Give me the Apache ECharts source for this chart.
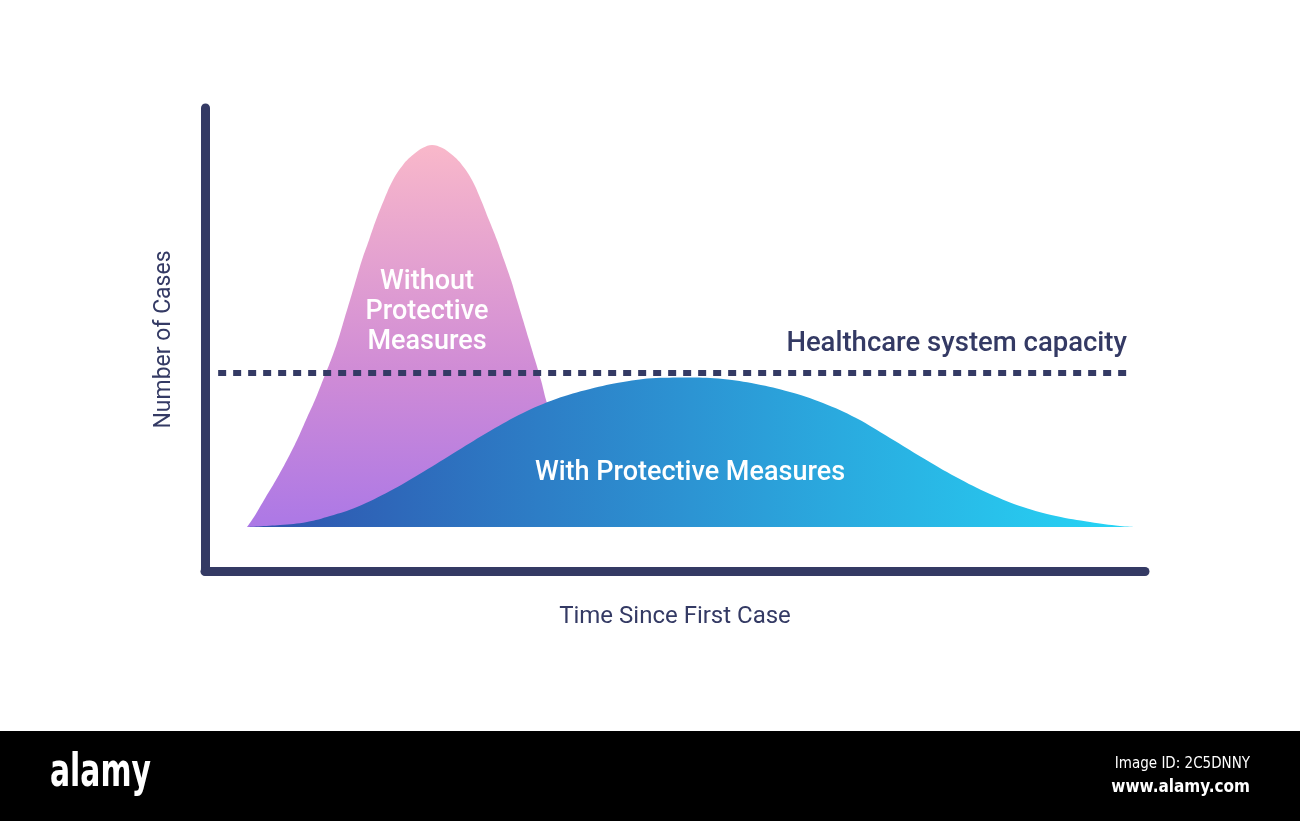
<!DOCTYPE html>
<html>
<head>
<meta charset="utf-8">
<title>Flatten the curve</title>
<script src="https://cdn.jsdelivr.net/npm/echarts@6/dist/echarts.min.js"></script>
<style>
  html, body { margin: 0; padding: 0; background: #fff; }
  #curveChart { width: 1300px; height: 821px; }
</style>
</head>
<body>
<div id="curveChart"></div>
<script>
  // curve without protective measures (time, cases)
  var timeWithout = [4.47, 5.21, 6.28, 7.55, 8.72, 9.79, 10.74, 11.70, 12.55, 13.40, 14.15, 14.79, 15.43, 16.06,
    16.70, 17.45, 18.19, 19.04, 20.00, 21.06, 22.13, 23.19, 24.15, 25.21, 26.28, 27.34, 28.40, 29.36, 30.21,
    31.06, 31.81, 32.55, 33.19, 33.83, 34.47, 35.11, 35.74, 36.28, 36.91, 37.66, 38.51, 39.57, 40.96, 42.55, 45.21];
  var casesWithout = [0, 2.27, 6.14, 10.68, 15.23, 19.77, 24.32, 28.86, 33.41, 37.95, 42.50, 47.05, 51.59, 56.14,
    60.68, 65.23, 69.77, 74.32, 78.86, 82.27, 84.55, 86.14, 86.82, 86.14, 84.55, 82.27, 78.86, 74.32, 69.77,
    65.23, 60.68, 56.14, 51.59, 47.05, 42.50, 37.95, 33.41, 28.86, 24.32, 19.77, 15.23, 10.68, 6.14, 2.73, 0];

  // curve with protective measures
  var timeWith = [4.47, 7.98, 10.85, 13.30, 16.17, 19.68, 23.19, 26.81, 30.32, 33.83, 37.34, 40.96, 44.47, 47.98,
    51.60, 55.11, 58.62, 62.23, 65.74, 69.26, 72.87, 76.38, 79.89, 83.51, 87.02, 90.53, 94.15, 97.34, 98.94];
  var casesWith = [0, 0.45, 1.14, 2.50, 4.55, 8.18, 12.50, 17.27, 21.82, 25.91, 29.09, 31.36, 32.95, 33.86,
    33.98, 33.64, 32.50, 30.68, 28.18, 24.77, 20.23, 15.68, 11.36, 7.50, 4.55, 2.50, 1.14, 0.23, 0];

  // healthcare system capacity
  var capacityLevel = 35;
  var capacityFrom = 1.4;
  var capacityTo = 98.1;

  var labels = {
    without: 'Without\nProtective\nMeasures',
    withMeasures: 'With Protective Measures',
    capacity: 'Healthcare system capacity',
    yName: 'Number of Cases',
    xName: 'Time Since First Case'
  };

  function pairs(xs, ys) {
    var out = [];
    for (var i = 0; i < xs.length; i++) {
      out.push([xs[i], ys[i]]);
    }
    return out;
  }

  var navy = '#343a64';
  var chartDom = document.getElementById('curveChart');
  var myChart = echarts.init(chartDom, null, {renderer: 'canvas'});
  var option;

  option = {
    backgroundColor: '#ffffff',
    animation: false,
    grid: {left: 205, top: 108, width: 940, height: 463},
    xAxis: {
      type: 'value',
      min: 0,
      max: 100,
      name: labels.xName,
      nameLocation: 'middle',
      nameGap: 34,
      nameTextStyle: {color: navy, fontSize: 24, fontFamily: 'Roboto'},
      axisLine: {onZero: false, lineStyle: {color: navy, width: 9, cap: 'round'}},
      axisTick: {show: false},
      axisLabel: {show: false},
      splitLine: {show: false}
    },
    yAxis: {
      type: 'value',
      min: -10,
      max: 95.2,
      name: labels.yName,
      nameLocation: 'middle',
      nameGap: 29,
      nameTextStyle: {color: navy, fontSize: 23, fontFamily: 'Roboto'},
      axisLine: {show: true, onZero: false, lineStyle: {color: navy, width: 9, cap: 'round'}},
      axisTick: {show: false},
      axisLabel: {show: false},
      splitLine: {show: false}
    },
    series: [
      {
        name: 'without',
        type: 'line',
        smooth: 0.4,
        showSymbol: false,
        silent: true,
        lineStyle: {width: 0},
        areaStyle: {
          opacity: 1,
          color: new echarts.graphic.LinearGradient(0, 0, 0, 1, [
            {offset: 0, color: '#f9b8ca'},
            {offset: 0.6, color: '#cf8bd6'},
            {offset: 1, color: '#ac78e6'}
          ])
        },
        data: pairs(timeWithout, casesWithout)
      },
      {
        name: 'with',
        type: 'line',
        smooth: 0.4,
        showSymbol: false,
        silent: true,
        lineStyle: {width: 0},
        areaStyle: {
          opacity: 1,
          color: new echarts.graphic.LinearGradient(0, 0, 1, 0, [
            {offset: 0, color: '#2f52ad'},
            {offset: 0.5, color: '#2c94d3'},
            {offset: 1, color: '#26d6f6'}
          ])
        },
        data: pairs(timeWith, casesWith)
      },
      {
        name: 'capacity',
        type: 'line',
        showSymbol: false,
        silent: true,
        lineStyle: {color: navy, width: 6, type: [8, 7], cap: 'butt'},
        data: [[capacityFrom, capacityLevel], [capacityTo, capacityLevel]]
      }
    ],
    graphic: [
      {
        type: 'text', x: 427, y: 312, z: 100, silent: true,
        style: {text: labels.without, fill: '#ffffff', font: '500 27px Roboto', align: 'center', verticalAlign: 'middle', lineHeight: 30}
      },
      {
        type: 'text', x: 690, y: 473, z: 100, silent: true,
        style: {text: labels.withMeasures, fill: '#ffffff', font: '500 27px Roboto', align: 'center', verticalAlign: 'middle'}
      },
      {
        type: 'text', x: 1127, y: 344, z: 100, silent: true,
        style: {text: labels.capacity, fill: navy, font: '500 27.5px Roboto', align: 'right', verticalAlign: 'middle'}
      },
      // stock banner at the bottom
      {
        type: 'rect', silent: true, z: 100,
        shape: {x: 0, y: 731, width: 1300, height: 90},
        style: {fill: '#000000'}
      },
      {
        type: 'text', x: 50, y: 774, scaleX: 0.72, z: 101, silent: true,
        style: {text: 'alamy', fill: '#ffffff', font: 'bold 46px "DejaVu Sans Condensed"', align: 'left', verticalAlign: 'middle'}
      },
      {
        type: 'text', x: 1250, y: 764, z: 101, silent: true,
        style: {text: 'Image ID: 2C5DNNY', fill: '#ffffff', font: '15px "DejaVu Sans Condensed"', align: 'right', verticalAlign: 'middle'}
      },
      {
        type: 'text', x: 1250, y: 788, z: 101, silent: true,
        style: {text: 'www.alamy.com', fill: '#ffffff', font: 'bold 17px "DejaVu Sans Condensed"', align: 'right', verticalAlign: 'middle'}
      }
    ]
  };

  option && myChart.setOption(option);
</script>
</body>
</html>
